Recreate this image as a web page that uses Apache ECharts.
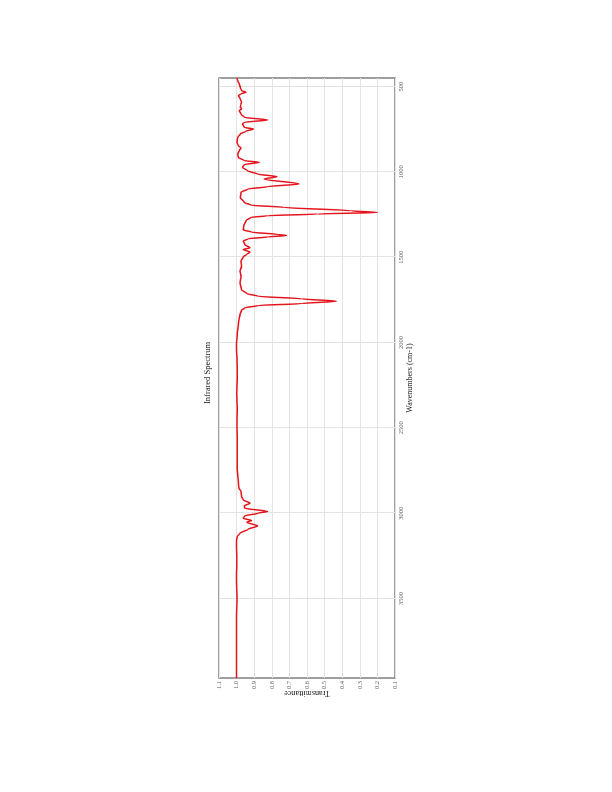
<!DOCTYPE html>
<html>
<head>
<meta charset="utf-8">
<script src="https://cdn.jsdelivr.net/npm/echarts@6/dist/echarts.min.js"></script>
<style>
html,body{margin:0;padding:0;background:#fff;width:612px;height:792px;overflow:hidden;}
#chart{position:absolute;left:0;top:0;width:792px;height:612px;transform-origin:0 0;transform:translate(0,792px) rotate(-90deg);}
</style>
</head>
<body>
<div id="chart"></div>
<script>
// Spectrum samples
const wavenumbers = [450,465,485,504,524,533,543,553,573,592,602,621,631,641,661,680,696,710,719,739,749,762,778,798,827,846,860,876,895,915,934,944,958,974,993,1013,1028,1042,1071,1087,1101,1120,1150,1179,1195,1208,1228,1238,1247,1257,1267,1286,1316,1340,1353,1367,1373,1381,1392,1406,1426,1445,1455,1470,1484,1498,1523,1553,1582,1611,1650,1690,1713,1729,1744,1758,1772,1783,1797,1811,1836,1866,1905,1944,2002,2042,2100,2200,2300,2400,2500,2600,2700,2746,2805,2854,2873,2902,2922,2942,2957,2971,2990,3000,3016,3030,3043,3053,3075,3094,3118,3137,3157,3200,3300,3400,3500,3600,3700,3800,3900,3966];
const transmittance = [1.0,0.994,0.985,0.979,0.972,0.947,0.975,0.989,0.979,0.972,0.975,0.979,0.972,0.985,0.975,0.957,0.824,0.957,0.966,0.957,0.904,0.947,0.979,0.994,0.998,0.991,0.975,0.985,0.994,0.991,0.957,0.871,0.957,0.966,0.938,0.881,0.771,0.843,0.645,0.824,0.938,0.975,0.979,0.957,0.919,0.730,0.352,0.200,0.541,0.824,0.919,0.947,0.960,0.962,0.915,0.764,0.716,0.820,0.934,0.962,0.953,0.924,0.962,0.924,0.943,0.962,0.975,0.972,0.981,0.975,0.981,0.972,0.943,0.877,0.631,0.433,0.631,0.877,0.953,0.972,0.981,0.987,0.991,0.996,1.0,1.0,0.998,0.996,0.999,0.997,0.998,0.996,0.997,0.996,0.991,0.987,0.975,0.972,0.962,0.924,0.957,0.953,0.824,0.877,0.953,0.962,0.915,0.943,0.881,0.934,0.981,0.996,1.0,1.0,0.999,1.001,0.998,1.0,1.0,1.001,1.0,1.0];
const xTickValues = [500,1000,1500,2000,2500,3000,3500];
const titleText = 'Infrared Spectrum';
const xName = 'Wavenumbers (cm-1)';
const yName = 'Transmittance';

const seriesData = wavenumbers.map((w, i) => [w, transmittance[i]]);
const serif = '"Liberation Serif","DejaVu Serif",serif';

const chart = echarts.init(document.getElementById('chart'), null, {renderer: 'canvas'});
chart.setOption({
  animation: false,
  backgroundColor: '#ffffff',
  title: {
    text: titleText,
    left: 383,
    top: 198,
    textStyle: {fontFamily: serif, fontSize: 8.5, fontWeight: 'normal', color: '#222'}
  },
  grid: {
    left: 114, right: 78, top: 219, bottom: 217,
    show: true, borderColor: '#808080', borderWidth: 1.5, backgroundColor: 'transparent'
  },
  xAxis: {
    type: 'value',
    inverse: true,
    min: 450,
    max: 3966,
    name: xName,
    nameLocation: 'middle',
    nameGap: 11,
    nameTextStyle: {fontFamily: serif, fontSize: 8, color: '#222'},
    axisLine: {show: false},
    axisTick: {show: false, customValues: xTickValues},
    axisLabel: {customValues: xTickValues, fontFamily: serif, fontSize: 6.5, color: '#666', margin: 3, formatter: v => String(v)},
    splitLine: {show: true, lineStyle: {color: '#e3e3e3', width: 1}}
  },
  yAxis: {
    type: 'value',
    min: 0.1,
    max: 1.1,
    interval: 0.1,
    name: yName,
    nameLocation: 'middle',
    nameGap: 11,
    nameMoveOverlap: false,
    nameTextStyle: {fontFamily: serif, fontSize: 8, color: '#222'},
    axisLine: {show: false},
    axisTick: {show: false},
    axisLabel: {fontFamily: serif, fontSize: 6.5, color: '#666', margin: 3, formatter: v => v.toFixed(1)},
    splitLine: {show: true, lineStyle: {color: '#e3e3e3', width: 1}}
  },
  series: [{
    type: 'line',
    data: seriesData,
    showSymbol: false,
    smooth: 0.3,
    smoothMonotone: 'x',
    lineStyle: {color: '#e3141b', width: 1.5},
    itemStyle: {color: '#e3141b'}
  }]
});
</script>
</body>
</html>
